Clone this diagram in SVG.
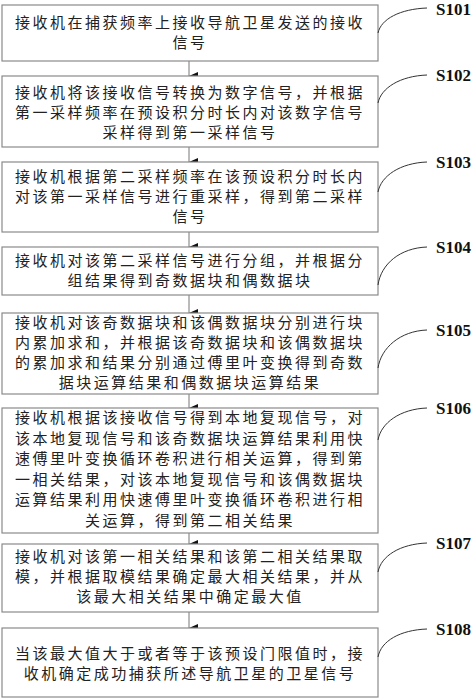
<svg xmlns="http://www.w3.org/2000/svg" width="474" height="699" viewBox="0 0 474 699">
<defs>
<marker id="ah" markerUnits="userSpaceOnUse" markerWidth="8" markerHeight="9" refX="4" refY="9" orient="auto-start-reverse" viewBox="0 0 8 9">
<path d="M0,0 L8,0 L4,9 Z" fill="#111"/>
</marker>
<style>
.box{fill:#fff;stroke:#8a8a8a;stroke-width:1.2}
.t{font-family:"Noto Sans CJK SC","Noto Sans CJK JP",sans-serif;font-size:15px;letter-spacing:2.5px;fill:#222;text-anchor:middle}
.lbl{font-family:"Liberation Serif","Times New Roman",serif;font-size:17px;font-weight:bold;fill:#111}
.cv{fill:none;stroke:#333;stroke-width:1}
.ar{stroke:#777;stroke-width:1;fill:none}
</style>
</defs>
<rect width="474" height="699" fill="#fff"/>
<g id="connectors">
<line class="ar" x1="189" y1="61" x2="189" y2="76" marker-end="url(#ah)"/>
<line class="ar" x1="189" y1="147" x2="189" y2="162" marker-end="url(#ah)"/>
<line class="ar" x1="189" y1="232" x2="189" y2="247" marker-end="url(#ah)"/>
<line class="ar" x1="189" y1="295" x2="189" y2="313" marker-end="url(#ah)"/>
<line class="ar" x1="189" y1="394" x2="189" y2="408" marker-end="url(#ah)"/>
<line class="ar" x1="189" y1="533" x2="189" y2="544" marker-end="url(#ah)"/>
<line class="ar" x1="189" y1="612" x2="189" y2="628" marker-end="url(#ah)"/>
</g>
<g id="S101">
<rect class="box" x="2" y="5" width="376" height="56"/>
<text class="t" x="190" y="28">接收机在捕获频率上接收导航卫星发送的接收</text>
<text class="t" x="190" y="48">信号</text>
<path class="cv" d="M378,33 C381,19 400,9 427,8"/>
<text class="lbl" x="436" y="15">S101</text>
</g>
<g id="S102">
<rect class="box" x="2" y="76" width="376" height="71"/>
<text class="t" x="190" y="98">接收机将该接收信号转换为数字信号，并根据</text>
<text class="t" x="190" y="118">第一采样频率在预设积分时长内对该数字信号</text>
<text class="t" x="190" y="138">采样得到第一采样信号</text>
<path class="cv" d="M378,103 C381,88 400,76 427,75"/>
<text class="lbl" x="436" y="81">S102</text>
</g>
<g id="S103">
<rect class="box" x="2" y="162" width="376" height="70"/>
<text class="t" x="190" y="182">接收机根据第二采样频率在该预设积分时长内</text>
<text class="t" x="190" y="202">对该第一采样信号进行重采样，得到第二采样</text>
<text class="t" x="190" y="222">信号</text>
<path class="cv" d="M378,192 C381,176 400,163 427,162"/>
<text class="lbl" x="436" y="168">S103</text>
</g>
<g id="S104">
<rect class="box" x="2" y="247" width="376" height="48"/>
<text class="t" x="190" y="266">接收机对该第二采样信号进行分组，并根据分</text>
<text class="t" x="190" y="286">组结果得到奇数据块和偶数据块</text>
<path class="cv" d="M378,285 C381,264 400,248 427,247"/>
<text class="lbl" x="436" y="253">S104</text>
</g>
<g id="S105">
<rect class="box" x="2" y="313" width="376" height="81"/>
<text class="t" x="190" y="328">接收机对该奇数据块和该偶数据块分别进行块</text>
<text class="t" x="190" y="348">内累加求和，并根据该奇数据块和该偶数据块</text>
<text class="t" x="190" y="368">的累加求和结果分别通过傅里叶变换得到奇数</text>
<text class="t" x="190" y="388">据块运算结果和偶数据块运算结果</text>
<path class="cv" d="M378,368 C381,348 400,331 427,330"/>
<text class="lbl" x="436" y="336">S105</text>
</g>
<g id="S106">
<rect class="box" x="2" y="408" width="376" height="125"/>
<text class="t" x="190" y="423">接收机根据该接收信号得到本地复现信号，对</text>
<text class="t" x="190" y="444">该本地复现信号和该奇数据块运算结果利用快</text>
<text class="t" x="190" y="464">速傅里叶变换循环卷积进行相关运算，得到第</text>
<text class="t" x="190" y="485">一相关结果，对该本地复现信号和该偶数据块</text>
<text class="t" x="190" y="505">运算结果利用快速傅里叶变换循环卷积进行相</text>
<text class="t" x="190" y="526">关运算，得到第二相关结果</text>
<path class="cv" d="M378,440 C381,423 400,409 427,408"/>
<text class="lbl" x="436" y="414">S106</text>
</g>
<g id="S107">
<rect class="box" x="2" y="544" width="376" height="68"/>
<text class="t" x="190" y="562">接收机对该第一相关结果和该第二相关结果取</text>
<text class="t" x="190" y="582">模，并根据取模结果确定最大相关结果，并从</text>
<text class="t" x="190" y="602">该最大相关结果中确定最大值</text>
<path class="cv" d="M378,572 C381,556 400,544 427,543"/>
<text class="lbl" x="436" y="549">S107</text>
</g>
<g id="S108">
<rect class="box" x="2" y="628" width="376" height="69"/>
<text class="t" x="190" y="659">当该最大值大于或者等于该预设门限值时，接</text>
<text class="t" x="190" y="679">收机确定成功捕获所述导航卫星的卫星信号</text>
<path class="cv" d="M378,657 C381,641 400,630 427,629"/>
<text class="lbl" x="436" y="635">S108</text>
</g>
</svg>
